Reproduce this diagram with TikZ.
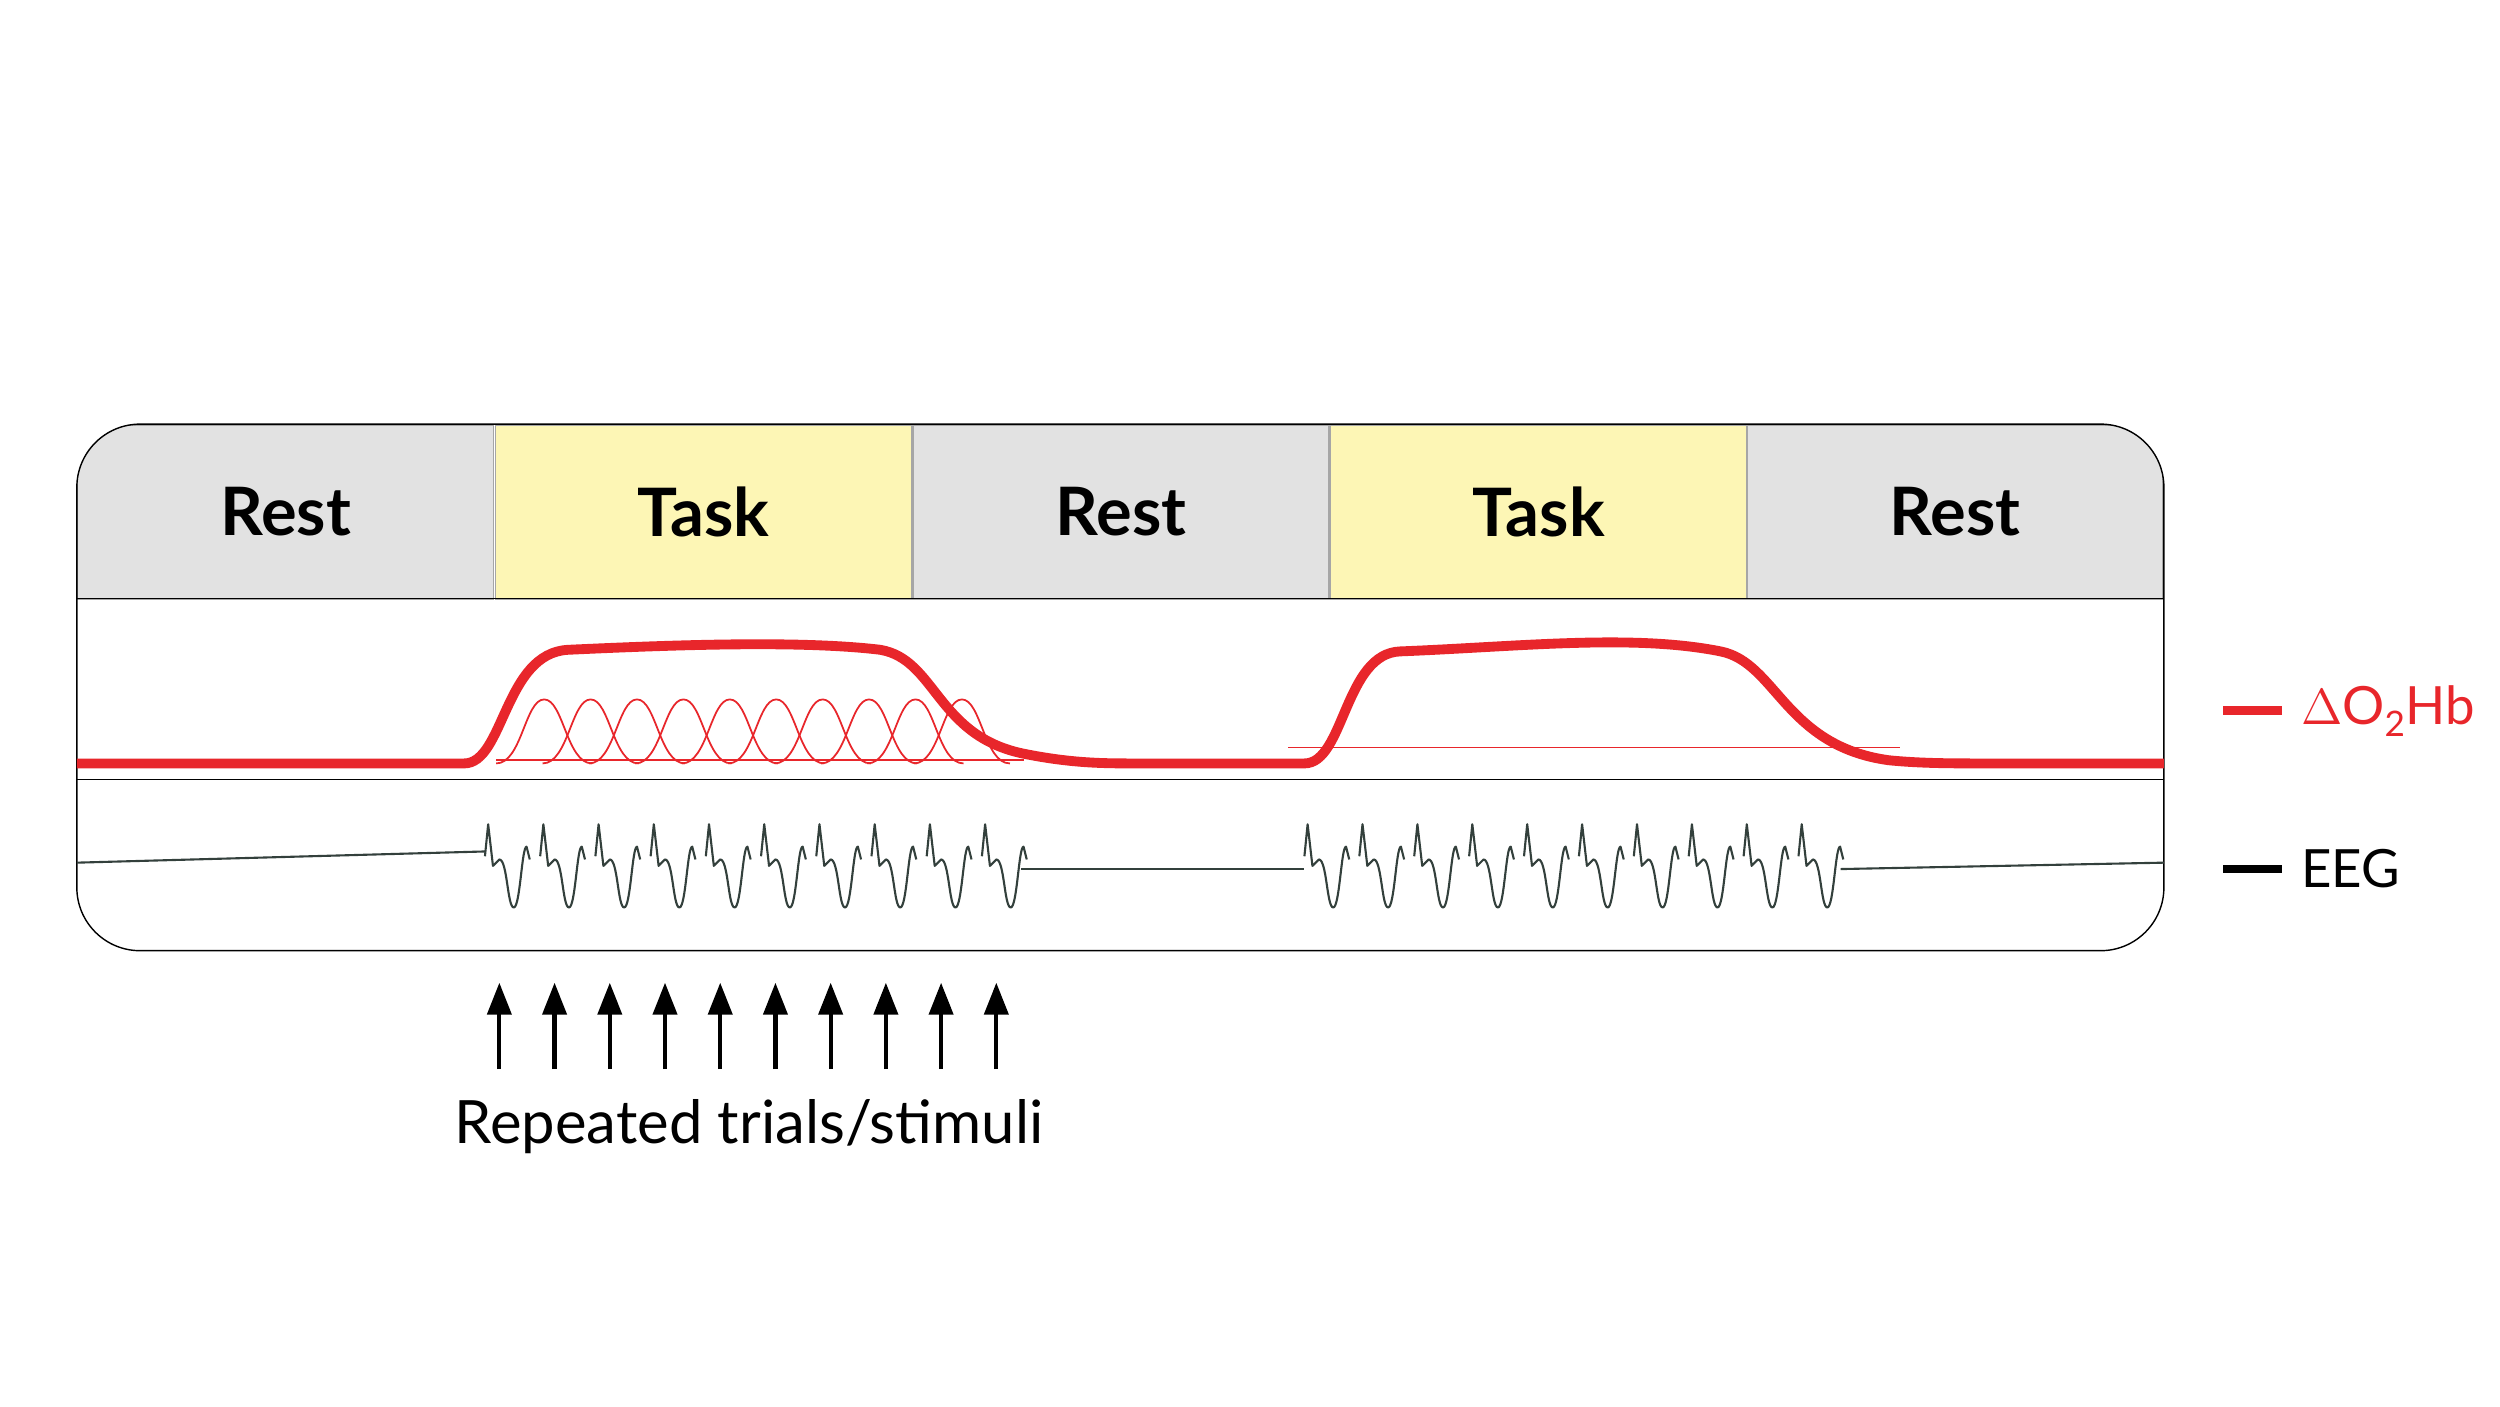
\documentclass[tikz,border=0pt]{standalone}
\usepackage{fontspec}
\setmainfont{Lato}
\usetikzlibrary{calc, positioning, arrows.meta}
\definecolor{restGray}{HTML}{E2E2E2}
\definecolor{taskYellow}{HTML}{FDF6B5}
\definecolor{hbRed}{HTML}{E8262B}
\definecolor{eegGray}{HTML}{33403C}
\tikzset{
    blockCell/.style={draw=gray!70, thin, minimum height=17.44mm, minimum width=41.6mm, inner sep=0pt, font=\fontsize{19}{22}\selectfont\bfseries},
    hbLine/.style={hbRed, line width=2.8pt, line join=round},
    hbBump/.style={hbRed, line width=0.5pt},
    eegLine/.style={eegGray, line width=0.6pt, line join=round},
    trialArrow/.style={-{Triangle[length=3.2mm, width=2.4mm]}, line width=1.2pt},
    legendText/.style={font=\fontsize{15}{18}\selectfont, anchor=west},
}
\newcommand{\eegBurst}[2]{
    % ten trial waveforms starting at x=#1
    \foreach \k in {0,...,9}{
        \draw[eegLine] ($(#1+\k*#2, 535)$) -- ++(2,-20) -- ++(3,26) -- ++(4,-4)
            .. controls ++(5,0) and ++(-4,0) .. ++(9,30)
            .. controls ++(4,0) and ++(-3,0) .. ++(8,-38)
            -- ++(2,8);
    }
}
\begin{document}
\begin{tikzpicture}[x=0.16mm, y=-0.16mm]
    \useasboundingbox (0,0) rectangle (1562,878.6);

    % frame and blocks
    \begin{scope}
        \clip[rounded corners=18] (48,265) rectangle (1352,594);
        \fill[white] (48,265) rectangle (1352,594);
        \foreach \x/\lab/\col [count=\i] in {48/Rest/restGray, 309/Task/taskYellow, 570/Rest/restGray, 831/Task/taskYellow, 1091/Rest/restGray}{
            \node[blockCell, fill=\col, anchor=north west] (cell\i) at (\x,265) {\lab};
        }
    \end{scope}
    \draw[rounded corners=18, thin] (48,265) rectangle (1352,594);
    \draw[thin] (48,374) -- (1352,374);
    \draw[thin] (48,487) -- (1352,487);

    % haemodynamic response
    \foreach \k in {0,...,9}{
        \draw[hbBump] ($(310+\k*29,477)$) .. controls ++(16,0) and ++(-12,0) .. ++(30,-40)
            .. controls ++(12,0) and ++(-16,0) .. ++(30,40);
    }
    \draw[hbBump] (310,475) -- (640,475);
    \draw[hbBump] (805,467) -- (1187,467);
    \draw[hbLine] (48,477) -- (290,477)
        .. controls (315,477) and (315,408) .. (355,406)
        .. controls (420,403) and (500,400) .. (550,406)
        .. controls (585,412) and (585,460) .. (640,471)
        .. controls (670,477) and (690,477) .. (710,477)
        -- (815,477)
        .. controls (840,477) and (840,408) .. (875,407)
        .. controls (950,404) and (1020,396) .. (1075,407)
        .. controls (1110,414) and (1115,466) .. (1180,475)
        .. controls (1200,477) and (1220,477) .. (1240,477) -- (1352,477);

    % EEG
    \draw[eegLine] (48,539) -- (303,532);
    \eegBurst{303}{34.5}
    \draw[eegLine] (638,543) -- (815,543);
    \eegBurst{815}{34.3}
    \draw[eegLine] (1150,543) -- (1352,539);

    % trials
    \foreach \k in {0,...,9}{
        \coordinate (tb\k) at ($(312+\k*34.5,668)$);
        \coordinate (tt\k) at ($(312+\k*34.5,614)$);
        \draw[trialArrow] (tb\k) -- (tt\k);
    }
    \node[font=\fontsize{17}{20}\selectfont] (trials) at (468,704) {Repeated trials/stimuli};

    % legend
    \coordinate (lr1) at (1389,444);
    \coordinate (lr2) at (1426,444);
    \draw[hbRed, line width=2.5pt] (lr1) -- (lr2);
    \node[legendText, text=hbRed] (hbLab) at (1430,444) {$\Delta$O\raisebox{-0.45ex}{\fontsize{10}{12}\selectfont 2}Hb};
    \coordinate (le1) at (1389,543);
    \coordinate (le2) at (1426,543);
    \draw[line width=2.5pt] (le1) -- (le2);
    \node[legendText] (eegLab) at (1430,543) {EEG};
\end{tikzpicture}
\end{document}
